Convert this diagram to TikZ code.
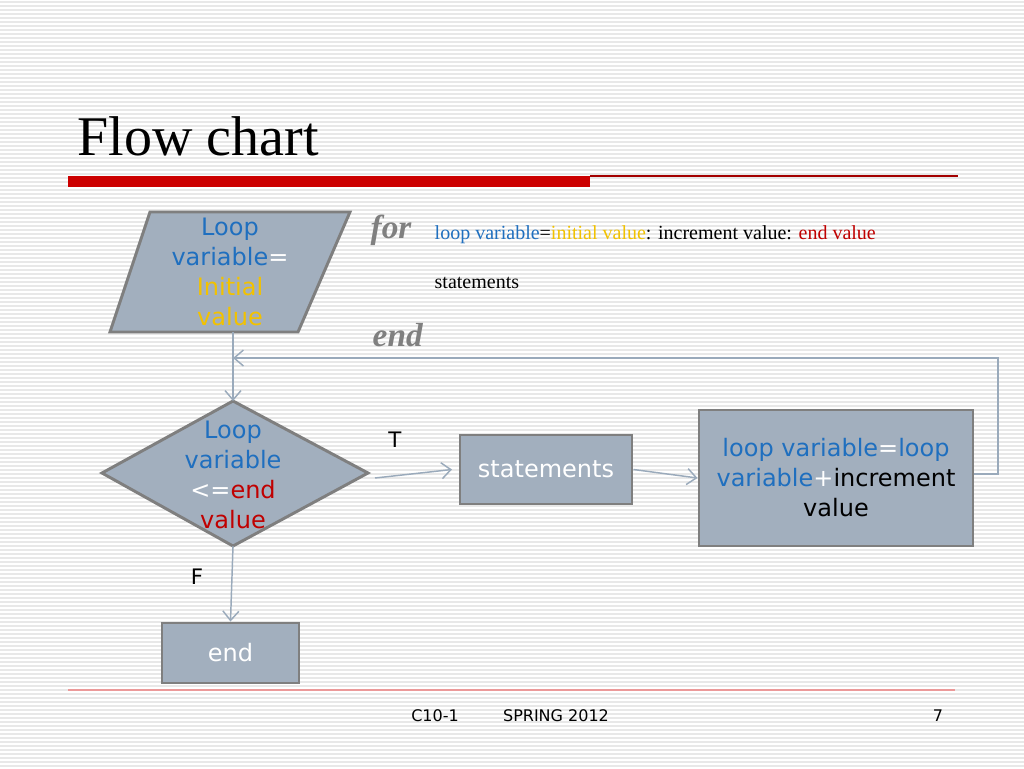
\documentclass[tikz,border=0pt]{standalone}
\usepackage{fontspec}
\setmainfont{Liberation Serif}
\setsansfont{DejaVu Sans}
\usetikzlibrary{positioning}
\usetikzlibrary{arrows.meta}
\definecolor{boxfill}{HTML}{A2AFBE}
\definecolor{boxline}{HTML}{7F7F7F}
\definecolor{arrowc}{HTML}{9AAABB}
\definecolor{txtblue}{HTML}{1F6FBF}
\definecolor{txtyellow}{HTML}{F2C200}
\definecolor{txtred}{HTML}{C00000}
\definecolor{barred}{HTML}{CC0000}
\begin{document}
\begin{tikzpicture}[x=0.75pt, y=-0.75pt,
    shapebox/.style={fill=boxfill, draw=boxline, line width=2.2pt},
    boxtext/.style={font=\sffamily\fontsize{18}{22.5}\selectfont, align=center, text=white},
    flow/.style={draw=arrowc, line width=1.1pt, -{Straight Barb[length=7pt, width=12pt]}}]
\useasboundingbox (0,0) rectangle (1024,768);
\fill[white] (0,0) rectangle (1024,768);
\foreach \y in {2,6,...,766}
  \draw[gray!18, line width=0.8pt] (0,\y) -- (1024,\y);

\begin{scope}
  \node[anchor=base west, font=\fontsize{42}{48}\selectfont] (title) at (73,155) {Flow chart};
  \fill[barred] (68,176) rectangle (590,187);
  \draw[barred!80!black, line width=0.8pt] (590,176) -- (958,176);
  \draw[barred!40, line width=0.8pt] (68,690) -- (955,690);
\end{scope}

% shapes
\draw[shapebox] (150,212) -- (350,212) -- (298,332) -- (110,332) -- cycle;
\draw[shapebox] (102,473) -- (233,401) -- (368,473) -- (233,546) -- cycle;
\coordinate (inTop) at (233,332);
\coordinate (dTop) at (233,401);
\coordinate (dRight) at (375,478);
\coordinate (dBottom) at (233,546);

\begin{scope}[every node/.style={boxtext}]
  \node (init) at (230,272) {\textcolor{txtblue}{Loop}\\\textcolor{txtblue}{variable}=\\\textcolor{txtyellow}{Initial}\\\textcolor{txtyellow}{value}};
  \node (cond) at (233,475) {\textcolor{txtblue}{Loop}\\\textcolor{txtblue}{variable}\\<=\textcolor{txtred}{end}\\\textcolor{txtred}{value}};
  \node[shapebox, minimum width=172*0.75pt, minimum height=69*0.75pt] (stmt) at (546,469.5) {statements};
  \node[shapebox, text=black, minimum width=274*0.75pt, minimum height=136*0.75pt] (incr) at (836,478) {\textcolor{txtblue}{loop variable}\textcolor{white}{=}\textcolor{txtblue}{loop}\\\textcolor{txtblue}{variable}\textcolor{white}{+}increment\\value};
  \node[shapebox, minimum width=137*0.75pt, minimum height=60*0.75pt] (stop) at (230.5,653) {end};
\end{scope}

\begin{scope}[every node/.style={font=\sffamily\fontsize{16}{18}\selectfont}]
  \node (tlab) at (395,440) {T};
  \node (flab) at (197,577) {F};
\end{scope}

\begin{scope}[every node/.style={anchor=base west}]
  \node[font=\bfseries\itshape\fontsize{25}{28}\selectfont, text=gray] (kfor) at (366,238) {for};
  \node[font=\bfseries\itshape\fontsize{25}{28}\selectfont, text=gray] (kend) at (368,346) {end};
  \node[font=\fontsize{15}{18}\selectfont] (header) at (430,239) {\textcolor{txtblue}{loop variable}=\textcolor{txtyellow}{initial value}: increment value: \textcolor{txtred}{end value}};
  \node[font=\fontsize{15}{18}\selectfont] (body) at (430,288) {statements};
\end{scope}

\begin{scope}[every node/.style={anchor=base, font=\sffamily\fontsize{12}{14}\selectfont}]
  \node (code) at (435,721) {C10-1};
  \node (term) at (556,721) {SPRING 2012};
  \node (page) at (938,721) {7};
\end{scope}

\draw[flow] (inTop) -- (dTop);
\draw[flow] (dRight) -- (stmt.west -| 452,0);
\draw[flow] (stmt.east) -- (incr.west);
\draw[flow] (incr.east |- 0,474) -- (998,474) -- (998,358) -- (233,358);
\draw[flow] (dBottom) -- (stop.north);
\end{tikzpicture}
\end{document}
